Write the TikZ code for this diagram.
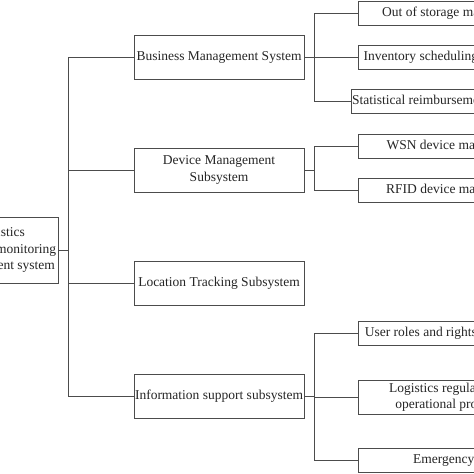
\documentclass[tikz,border=0pt]{standalone}
\usepackage{fontspec}
\setmainfont{Liberation Serif}
\begin{document}
\begin{tikzpicture}[
    x=1pt,y=-1pt,
    box/.style={draw=black!70,line width=0.8pt,fill=white,text=black!85,align=center,
        inner xsep=1pt,inner ysep=0pt,font=\fontsize{13.5}{16.5}\selectfont},
    sys/.style={box,minimum width=170,minimum height=44},
    leaf/.style={box,minimum width=198,minimum height=24},
    link/.style={draw=black!70,line width=0.8pt}
]
    \useasboundingbox (0,0) rectangle (474,474);
    \clip (0,0) rectangle (474,474);
    % root
    \node[box,minimum width=116,minimum height=66] (root) at (0,250)
        {Logistics\\real-time monitoring\\management system};
    % subsystems
    \node[sys] (bms) at (219,57) {Business Management System};
    \node[sys] (dms) at (219,170) {Device Management\\Subsystem};
    \node[sys] (lts) at (219,283) {Location Tracking Subsystem};
    \node[sys] (iss) at (219,396) {Information support subsystem};
    % functions
    \node[leaf] (osm) at (457,13) {Out of storage management};
    \node[leaf] (ism) at (457,57) {Inventory scheduling management};
    \node[leaf] (srm) at (457,101) {Statistical reimbursement management};
    \node[leaf] (wsn) at (457,146) {WSN device management};
    \node[leaf] (rfid) at (457,190) {RFID device management};
    \node[leaf] (urm) at (457,333) {User roles and rights management};
    \node[leaf,minimum height=34] (lrp) at (457,397) {Logistics regulations and\\operational procedures};
    \node[leaf] (emp) at (457,460) {Emergency plan};
    % junctions
    \coordinate (t) at (68,250);
    \coordinate (tb) at (314,57);
    \coordinate (td) at (314,170);
    \coordinate (ti) at (314,396);
    \draw[link] (root.east) -- (t);
    \foreach \s in {bms,dms,lts,iss}
        \draw[link] (\s.west) -| (t);
    \draw[link] (bms.east) -- (tb);
    \draw[link] (dms.east) -- (td);
    \draw[link] (iss.east) -- (ti);
    \foreach \f in {osm,ism,srm}
        \draw[link] (\f.west) -| (tb);
    \foreach \f in {wsn,rfid}
        \draw[link] (\f.west) -| (td);
    \foreach \f in {urm,lrp,emp}
        \draw[link] (\f.west) -| (ti);
\end{tikzpicture}
\end{document}
